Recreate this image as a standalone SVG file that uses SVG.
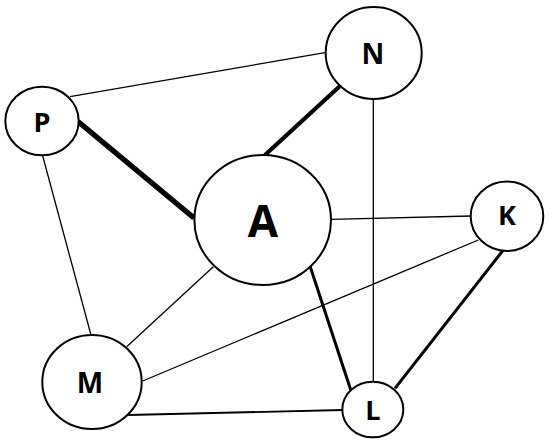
<svg xmlns="http://www.w3.org/2000/svg" width="550" height="443" viewBox="0 0 550 443">
<style>
.n{fill:#fff;stroke:#000;stroke-width:2}
.t{font-family:"Open Sans","Lato","Liberation Sans",sans-serif;font-weight:700;text-anchor:middle;fill:#000}
.e{stroke:#000;stroke-linecap:butt;fill:none}
.thin{stroke-width:1.3}
.mid{stroke-width:3}
.thick{stroke-width:4.2}
.xthick{stroke-width:5.5}
</style>
<rect width="550" height="443" fill="#fff"/>
<g id="connectors">
<line class="e thin" x1="70" y1="96.7" x2="325" y2="52.7"/>
<line class="e xthick" x1="78" y1="121.5" x2="194" y2="218"/>
<line class="e thick" x1="340" y1="86" x2="265" y2="155"/>
<line class="e thin" x1="42.7" y1="156" x2="91" y2="335"/>
<line class="e thin" x1="331" y1="219.3" x2="470.7" y2="216"/>
<line class="e thin" x1="373.3" y1="98" x2="373.3" y2="382"/>
<line class="e thin" x1="213.3" y1="266.7" x2="126.7" y2="346.7"/>
<line class="e mid" x1="310" y1="266" x2="351" y2="390.7"/>
<line class="e thin" x1="478.3" y1="240" x2="142.7" y2="381"/>
<line class="e mid" x1="503.3" y1="250" x2="395" y2="388.3"/>
<line class="e thin" style="stroke-width:1.8" x1="128.3" y1="415" x2="342.3" y2="410"/>
</g>
<g id="node-N"><ellipse class="n" cx="373.7" cy="53" rx="48" ry="46"/><text class="t" x="373" y="64" font-size="28">N</text></g>
<g id="node-P"><ellipse class="n" cx="42" cy="121" rx="36.7" ry="34.3"/><text class="t" x="42" y="132" font-size="27">P</text></g>
<g id="node-A"><ellipse class="n" cx="262.7" cy="220" rx="68.3" ry="65"/><text class="t" x="263" y="237" font-size="44">A</text></g>
<g id="node-K"><ellipse class="n" cx="507" cy="216.3" rx="36.3" ry="34.7"/><text class="t" x="507" y="225" font-size="27">K</text></g>
<g id="node-M"><ellipse class="n" cx="92" cy="382" rx="49.7" ry="47"/><text class="t" x="90" y="393" font-size="28">M</text></g>
<g id="node-L"><ellipse class="n" cx="372.8" cy="409.5" rx="30.5" ry="27.8"/><text class="t" x="373" y="420" font-size="27">L</text></g>
</svg>
